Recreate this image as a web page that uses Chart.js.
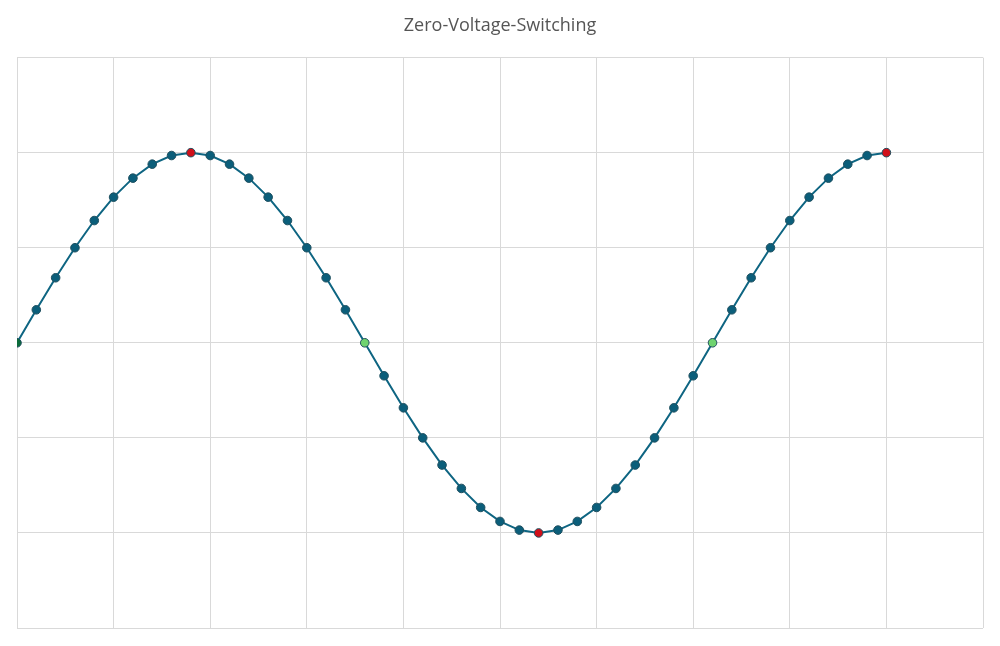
<!DOCTYPE html>
<html><head><meta charset="utf-8">
<script src="https://cdn.jsdelivr.net/npm/chart.js@4"></script>
<style>html,body{margin:0;background:#fff}#w{width:1000px;height:646px}</style>
</head><body><div id="w"><canvas id="c"></canvas></div>
<script>
const xValues = [0,1,2,3,4,5,6,7,8,9,10,11,12,13,14,15,16,17,18,19,20,21,22,23,24,25,26,27,28,29,30,31,32,33,34,35,36,37,38,39,40,41,42,43,44,45];
const yValues = [0,0.347,0.684,1,1.286,1.532,1.732,1.879,1.970,2,1.970,1.879,1.732,1.532,1.286,1,0.684,0.347,0,-0.347,-0.684,-1,-1.286,-1.532,-1.732,-1.879,-1.970,-2,-1.970,-1.879,-1.732,-1.532,-1.286,-1,-0.684,-0.347,0,0.347,0.684,1,1.286,1.532,1.732,1.879,1.970,2];
const pointKinds = {0:'start',9:'peak',18:'zero',27:'peak',36:'zero',45:'peak'};
const kindColors = {start:'#0b6b3a',peak:'#d0101a',zero:'#6fd36f',normal:'#0b5e7a'};
const pc = xValues.map((_,i)=>kindColors[pointKinds[i]||'normal']);
new Chart(document.getElementById('c'),{
  type:'line',
  data:{datasets:[{data:xValues.map((x,i)=>({x,y:yValues[i]})),borderColor:'#0e6582',borderWidth:2,
    pointBackgroundColor:pc,pointBorderColor:'#1f4f5f',pointBorderWidth:1,pointRadius:4.3,tension:0}]},
  options:{responsive:true,maintainAspectRatio:false,animation:false,
    layout:{padding:{left:17,right:17,bottom:18,top:0}},
    plugins:{legend:{display:false},title:{display:true,text:'Zero-Voltage-Switching',color:'#555',font:{size:18,family:'Open Sans',weight:'normal'},padding:{top:15,bottom:21}},tooltip:{enabled:false}},
    scales:{
      x:{type:'linear',min:0,max:50,ticks:{display:false,stepSize:5},grid:{color:'#d9d9d9',drawTicks:false},border:{display:false}},
      y:{min:-3,max:3,ticks:{display:false,stepSize:1},grid:{color:'#d9d9d9',drawTicks:false},border:{display:false}}
    }}
});
</script></body></html>
